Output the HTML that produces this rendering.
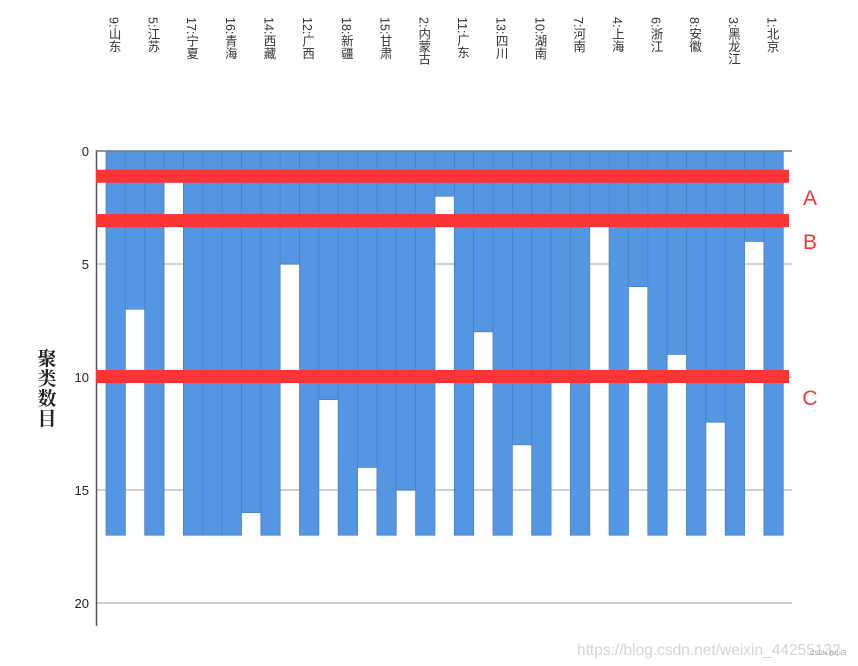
<!DOCTYPE html>
<html><head><meta charset="utf-8">
<style>
html,body{margin:0;padding:0;background:#fff;width:858px;height:666px;overflow:hidden;font-family:"Liberation Sans","Noto Sans CJK SC",sans-serif;}
#wrap{position:relative;width:858px;height:666px;}
.lab{position:absolute;top:17px;writing-mode:vertical-rl;text-orientation:mixed;font-size:12.5px;color:#333;line-height:14px;font-family:"Liberation Sans","Noto Sans CJK SC",sans-serif;transform:translateX(-9px);}
</style></head>
<body><div id="wrap">
<svg id="chart" width="858" height="666" style="position:absolute;left:0;top:0"></svg>
</div>
<script>
const cases = ["9:山东","5:江苏","17:宁夏","16:青海","14:西藏","12:广西","18:新疆","15:甘肃","2:内蒙古","11:广东","13:四川","10:湖南","7:河南","4:上海","6:浙江","8:安徽","3:黑龙江","1:北京"];
const mergeLevels = [7,1,17,16,5,11,14,15,2,8,13,10,3,6,9,12,4];
const caseDepth = 17;
const yTicks = [0,5,10,15,20];
const cutLines = [{name:"A",v:1.14},{name:"B",v:3.1},{name:"C",v:10}];

const NS="http://www.w3.org/2000/svg";
const svg=document.getElementById('chart');
const wrap=document.getElementById('wrap');
const x0=106,colW=19.35,yTop=151,unit=22.6;
const yS=v=>yTop+v*unit;
const xCol=i=>x0+i*colW;
function mk(t,a){const e=document.createElementNS(NS,t);for(const k in a)e.setAttribute(k,a[k]);svg.appendChild(e);return e;}

yTicks.forEach(t=>{
  if(t>0){const g=mk('line',{x1:96,x2:792,y1:yS(t),y2:yS(t),stroke:'#d0d0d0','stroke-width':2});
  
  }
  const tx=mk('text',{x:89,y:yS(t)+5,'text-anchor':'end','font-size':13,fill:'#222','font-family':'Liberation Sans, sans-serif'});
  tx.textContent=t;
  
  
});
cases.forEach((c,i)=>{
  const r=mk('rect',{x:xCol(2*i),y:yS(0),width:colW,height:yS(caseDepth)-yS(0),fill:'#5596e2',stroke:'#4a80c4','stroke-width':0.8});
  
  
  const d=document.createElement('div');d.className='lab';
  d.style.left=(xCol(2*i)+colW/2)+'px';d.textContent=c;
  
  
  wrap.appendChild(d);
});
mergeLevels.forEach((v,i)=>{
  const r=mk('rect',{x:xCol(2*i+1),y:yS(0),width:colW,height:yS(v)-yS(0),fill:'#5596e2',stroke:'#4a80c4','stroke-width':0.8});
  
  
});
const ax=mk('line',{x1:96.5,x2:96.5,y1:150,y2:626,stroke:'#555','stroke-width':1.5});


const tp=mk('line',{x1:96,x2:792,y1:151,y2:151,stroke:'#777','stroke-width':1.5});


const tt=mk('text',{x:47,y:0,'text-anchor':'middle','font-size':19,'font-weight':'bold',fill:'#222','font-family':'Noto Serif CJK SC, Noto Sans CJK SC, serif'});


["聚","类","数","目"].forEach((ch,k)=>{const s=document.createElementNS(NS,'tspan');s.setAttribute('x',47);s.setAttribute('y',365+k*20);s.textContent=ch;tt.appendChild(s);});
cutLines.forEach(l=>{
  const r=mk('rect',{x:96,y:yS(l.v)-7,width:693,height:13,fill:'#fb3436'});
  
  
  const t=mk('text',{x:810,y:yS(l.v)+28,'text-anchor':'middle','font-size':21,fill:'#fb3436','font-family':'Liberation Sans, sans-serif'});
  t.textContent=l.name;
  
  
});
const w=mk('text',{x:577,y:655,'font-size':15.5,fill:'#d4d4d4','font-family':'Liberation Sans, sans-serif'});
w.textContent='https://blog.csdn.net/weixin_44255132';


const w2=mk('text',{x:810,y:655,'font-size':6,fill:'#999','font-family':'Liberation Sans, sans-serif'});
w2.textContent='CSDN @小白';


</script>
</body></html>
